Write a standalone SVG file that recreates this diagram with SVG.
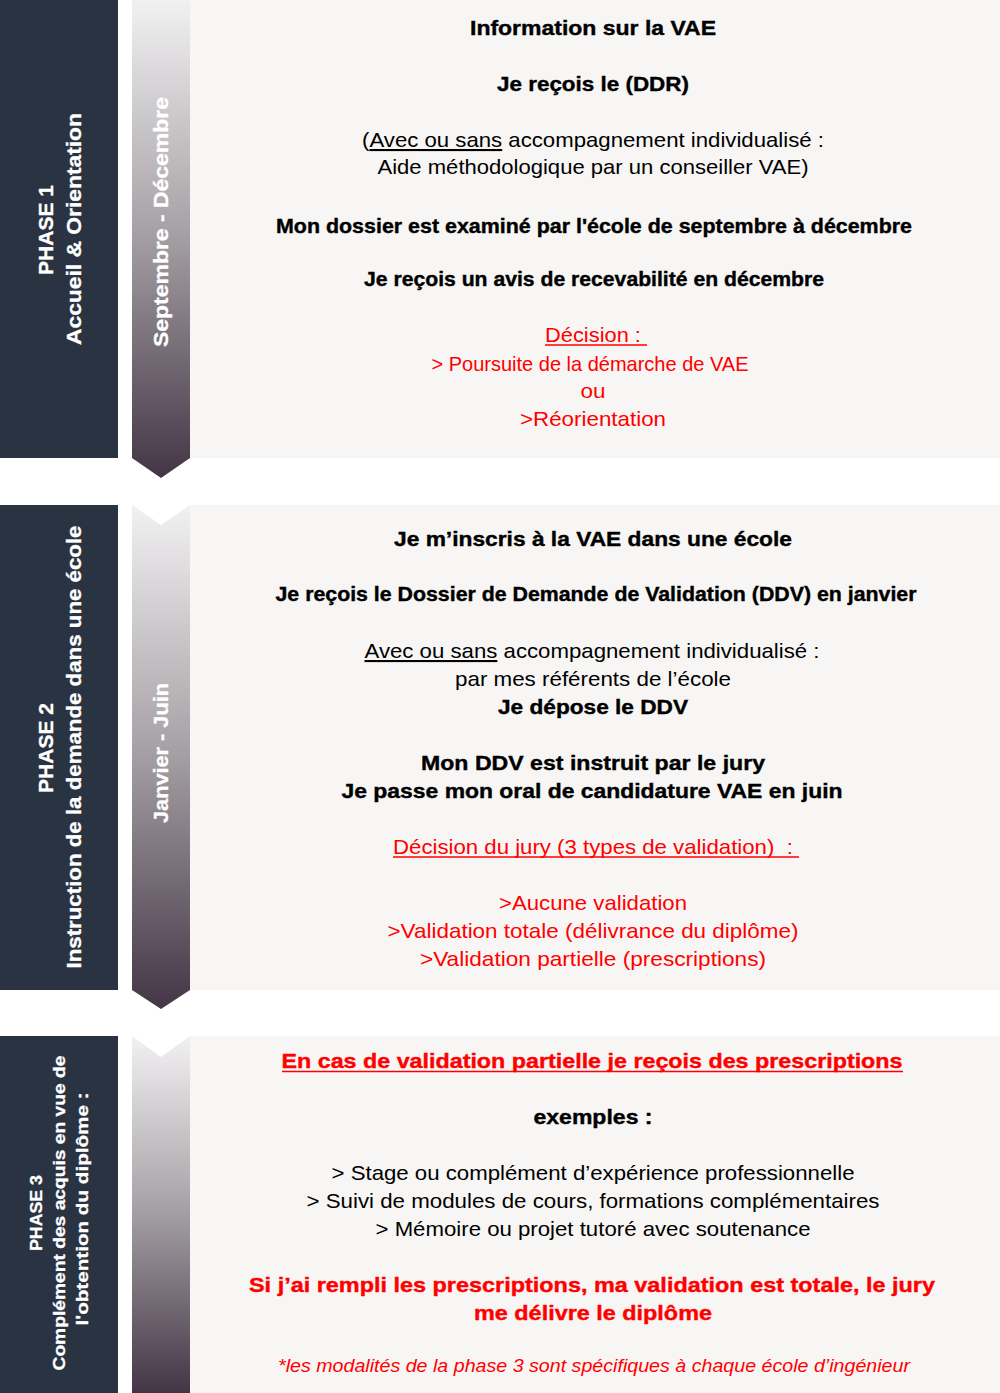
<svg xmlns="http://www.w3.org/2000/svg" width="1000" height="1393" viewBox="0 0 1000 1393">
<style>
  text { font-family: "Liberation Sans", Arial, sans-serif; text-anchor: middle; white-space: pre; }
  .b { font-weight: bold; font-size: 21px; fill: #000; stroke: #000; stroke-width: 0.4px; }
  .n { font-size: 21px; fill: #000; }
  .r { font-size: 21px; fill: #ff0000; }
  .rb { font-weight: bold; font-size: 21px; fill: #ff0000; stroke: #ff0000; stroke-width: 0.4px; }
  .it { font-style: italic; font-size: 18px; fill: #ff0000; }
  .u { text-decoration: underline; }
  .ul { stroke: #ff0000; stroke-width: 1.5; }
  .w { font-weight: bold; fill: #ffffff; font-size: 20px; stroke: #ffffff; stroke-width: 0.3px; }
  .w3 { font-weight: bold; fill: #ffffff; font-size: 17px; stroke: #ffffff; stroke-width: 0.3px; }
  .dark { fill: #2a3341; }
  .panel { fill: #f7f6f4; }
</style>
<defs>
  <linearGradient id="g1" gradientUnits="userSpaceOnUse" x1="0" y1="0" x2="0" y2="478">
    <stop offset="0" stop-color="#f2f1f2"/>
    <stop offset="0.5" stop-color="#a39ea3"/>
    <stop offset="1" stop-color="#433545"/>
  </linearGradient>
  <linearGradient id="g2" gradientUnits="userSpaceOnUse" x1="0" y1="505" x2="0" y2="1010">
    <stop offset="0" stop-color="#f2f1f2"/>
    <stop offset="0.5" stop-color="#a39ea3"/>
    <stop offset="1" stop-color="#433545"/>
  </linearGradient>
  <linearGradient id="g3" gradientUnits="userSpaceOnUse" x1="0" y1="1036" x2="0" y2="1393">
    <stop offset="0" stop-color="#f2f1f2"/>
    <stop offset="0.5" stop-color="#a39ea3"/>
    <stop offset="1" stop-color="#433545"/>
  </linearGradient>
</defs>
<rect width="1000" height="1393" fill="#ffffff"/>

<g id="phase1">
  <rect class="dark" x="0" y="0" width="118" height="458"/>
  <rect class="panel" x="190" y="0" width="810" height="458"/>
  <path d="M132,0 L190,0 L190,458 L161,478 L132,458 Z" fill="url(#g1)"/>
  <text class="w" transform="translate(53,230) rotate(-90)" textLength="90" lengthAdjust="spacingAndGlyphs">PHASE 1</text>
  <text class="w" transform="translate(81,229) rotate(-90)" textLength="232" lengthAdjust="spacingAndGlyphs">Accueil &amp; Orientation</text>
  <text class="w" transform="translate(168,222) rotate(-90)" textLength="250" lengthAdjust="spacingAndGlyphs">Septembre - Décembre</text>

  <text class="b" x="593" y="35" textLength="246" lengthAdjust="spacingAndGlyphs">Information sur la VAE</text>
  <text class="b" x="593" y="91" textLength="192" lengthAdjust="spacingAndGlyphs">Je reçois le (DDR)</text>
  <text class="n" x="593" y="147" textLength="462" lengthAdjust="spacingAndGlyphs">(<tspan class="u">Avec ou sans</tspan> accompagnement individualisé :</text>
  <text class="n" x="593" y="174" textLength="431" lengthAdjust="spacingAndGlyphs">Aide méthodologique par un conseiller VAE)</text>
  <text class="b" x="594" y="233" textLength="636" lengthAdjust="spacingAndGlyphs">Mon dossier est examiné par l'école de septembre à décembre</text>
  <text class="b" x="594" y="286" textLength="460" lengthAdjust="spacingAndGlyphs">Je reçois un avis de recevabilité en décembre</text>
  <text class="r" x="596" y="342" textLength="102" lengthAdjust="spacingAndGlyphs">Décision : </text>
  <line class="ul" x1="545" y1="345" x2="647" y2="345"/>
  <text class="r" x="590" y="371" textLength="317" lengthAdjust="spacingAndGlyphs">&gt; Poursuite de la démarche de VAE</text>
  <text class="r" x="593" y="398" textLength="25" lengthAdjust="spacingAndGlyphs">ou</text>
  <text class="r" x="593" y="426" textLength="146" lengthAdjust="spacingAndGlyphs">&gt;Réorientation</text>
</g>

<g id="phase2">
  <rect class="dark" x="0" y="505" width="118" height="485"/>
  <rect class="panel" x="190" y="505" width="810" height="485"/>
  <path d="M132,505 L161,525 L190,505 L190,990 L161,1009 L132,990 Z" fill="url(#g2)"/>
  <text class="w" transform="translate(53,748) rotate(-90)" textLength="90" lengthAdjust="spacingAndGlyphs">PHASE 2</text>
  <text class="w" transform="translate(81,747) rotate(-90)" textLength="443" lengthAdjust="spacingAndGlyphs">Instruction de la demande dans une école</text>
  <text class="w" transform="translate(168,753) rotate(-90)" textLength="140" lengthAdjust="spacingAndGlyphs">Janvier - Juin</text>

  <text class="b" x="593" y="546" textLength="398" lengthAdjust="spacingAndGlyphs">Je m’inscris à la VAE dans une école</text>
  <text class="b" x="596" y="601" textLength="641" lengthAdjust="spacingAndGlyphs">Je reçois le Dossier de Demande de Validation (DDV) en janvier</text>
  <text class="n" x="592" y="658" textLength="455" lengthAdjust="spacingAndGlyphs"><tspan class="u">Avec ou sans</tspan> accompagnement individualisé :</text>
  <text class="n" x="593" y="686" textLength="276" lengthAdjust="spacingAndGlyphs">par mes référents de l’école</text>
  <text class="b" x="593" y="714" textLength="190" lengthAdjust="spacingAndGlyphs">Je dépose le DDV</text>
  <text class="b" x="593" y="770" textLength="344" lengthAdjust="spacingAndGlyphs">Mon DDV est instruit par le jury</text>
  <text class="b" x="592" y="798" textLength="501" lengthAdjust="spacingAndGlyphs">Je passe mon oral de candidature VAE en juin</text>
  <text class="r" x="596" y="854" textLength="406" lengthAdjust="spacingAndGlyphs">Décision du jury (3 types de validation)  : </text>
  <line class="ul" x1="393" y1="857" x2="799" y2="857"/>
  <text class="r" x="593" y="910" textLength="188" lengthAdjust="spacingAndGlyphs">&gt;Aucune validation</text>
  <text class="r" x="593" y="938" textLength="411" lengthAdjust="spacingAndGlyphs">&gt;Validation totale (délivrance du diplôme)</text>
  <text class="r" x="593" y="966" textLength="346" lengthAdjust="spacingAndGlyphs">&gt;Validation partielle (prescriptions)</text>
</g>

<g id="phase3">
  <rect class="dark" x="0" y="1036" width="118" height="357"/>
  <rect class="panel" x="190" y="1036" width="810" height="357"/>
  <path d="M132,1036 L161,1057 L190,1036 L190,1393 L132,1393 Z" fill="url(#g3)"/>
  <text class="w3" transform="translate(42,1213) rotate(-90)" textLength="76" lengthAdjust="spacingAndGlyphs">PHASE 3</text>
  <text class="w3" transform="translate(65,1213) rotate(-90)" textLength="315" lengthAdjust="spacingAndGlyphs">Complément des acquis en vue de</text>
  <text class="w3" transform="translate(88,1209) rotate(-90)" textLength="233" lengthAdjust="spacingAndGlyphs">l'obtention du diplôme :</text>

  <text class="rb" x="592" y="1068" textLength="621" lengthAdjust="spacingAndGlyphs">En cas de validation partielle je reçois des prescriptions</text>
  <line class="ul" x1="282" y1="1071.5" x2="903" y2="1071.5" stroke-width="2"/>
  <text class="b" x="593" y="1124" textLength="119" lengthAdjust="spacingAndGlyphs">exemples :</text>
  <text class="n" x="593" y="1180" textLength="523" lengthAdjust="spacingAndGlyphs">&gt; Stage ou complément d’expérience professionnelle</text>
  <text class="n" x="593" y="1208" textLength="573" lengthAdjust="spacingAndGlyphs">&gt; Suivi de modules de cours, formations complémentaires</text>
  <text class="n" x="593" y="1236" textLength="435" lengthAdjust="spacingAndGlyphs">&gt; Mémoire ou projet tutoré avec soutenance</text>
  <text class="rb" x="592" y="1292" textLength="686" lengthAdjust="spacingAndGlyphs">Si j’ai rempli les prescriptions, ma validation est totale, le jury</text>
  <text class="rb" x="593" y="1320" textLength="238" lengthAdjust="spacingAndGlyphs">me délivre le diplôme</text>
  <text class="it" x="594" y="1372" textLength="632" lengthAdjust="spacingAndGlyphs">*les modalités de la phase 3 sont spécifiques à chaque école d’ingénieur</text>
</g>
</svg>
